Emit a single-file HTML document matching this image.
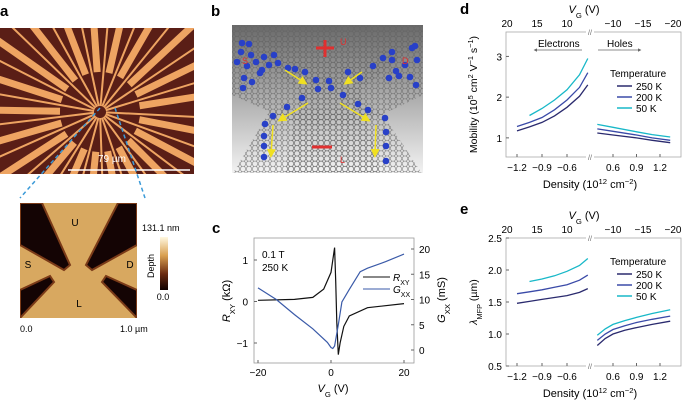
<!DOCTYPE html>
<html><head><meta charset="utf-8"><style>
body{margin:0;background:#fff}
svg{display:block;font-family:"Liberation Sans",sans-serif}
</style></head><body>
<svg id="fig" width="685" height="404" viewBox="0 0 685 404" xmlns="http://www.w3.org/2000/svg">
<defs>
<pattern id="hex" width="6" height="5.2" patternUnits="userSpaceOnUse">
<path d="M0,2.6 L1.5,0 L4.5,0 L6,2.6 L4.5,5.2 L1.5,5.2 Z" fill="none" stroke="#666" stroke-width="0.5"/>
</pattern>
<linearGradient id="bbg" x1="0" y1="0" x2="0" y2="1"><stop offset="0" stop-color="#6a6a6a"/><stop offset="1" stop-color="#f2f2f2"/></linearGradient>
<linearGradient id="cbar" x1="0" y1="0" x2="0" y2="1"><stop offset="0" stop-color="#fff8e0"/><stop offset="0.35" stop-color="#d9a050"/><stop offset="0.7" stop-color="#6a2a10"/><stop offset="1" stop-color="#100000"/></linearGradient>
<marker id="ya" markerWidth="6" markerHeight="6" refX="4" refY="3" orient="auto"><path d="M0,0 L6,3 L0,6Z" fill="#f0e020"/></marker>
<marker id="ga" markerWidth="5" markerHeight="5" refX="3" refY="2.5" orient="auto"><path d="M0,0 L5,2.5 L0,5Z" fill="#666"/></marker>
</defs>

<text x="0" y="16" font-weight="bold" font-size="15">a</text>
<text x="211" y="16" font-weight="bold" font-size="15">b</text>
<text x="212" y="233" font-weight="bold" font-size="15">c</text>
<text x="460" y="14" font-weight="bold" font-size="15">d</text>
<text x="460" y="214" font-weight="bold" font-size="15">e</text>

<g>
<clipPath id="ca"><rect x="0" y="28" width="194" height="146"/></clipPath>
<rect x="0" y="28" width="194" height="146" fill="#5a1e16"/>
<g id="stripes" clip-path="url(#ca)" stroke="#eea462" stroke-width="5"></g>
<line x1="68" y1="170" x2="190" y2="170" stroke="#fff" stroke-width="1.5"/>
<text x="98" y="162" fill="#fff" font-size="10">79 µm</text>
<line x1="100" y1="108" x2="20" y2="198" stroke="#3a9ad8" stroke-width="1.5" stroke-dasharray="4,3"/>
<line x1="115" y1="108" x2="145" y2="198" stroke="#3a9ad8" stroke-width="1.5" stroke-dasharray="4,3"/>
</g>

<g>
<clipPath id="cafm"><rect x="20" y="203" width="117" height="115"/></clipPath>
<g clip-path="url(#cafm)">
<rect x="20" y="203" width="117" height="115" fill="#d8a860"/>
<polygon points="20,203 42,203 70,265 64,270 20,245" fill="#140404" stroke="#7a3a18" stroke-width="2"/>
<polygon points="137,203 118,203 86,265 92,270 137,245" fill="#140404" stroke="#7a3a18" stroke-width="2"/>
<polygon points="20,290 50,276 54,282 20,318" fill="#140404" stroke="#7a3a18" stroke-width="2"/>
<polygon points="137,290 106,276 102,282 137,318" fill="#140404" stroke="#7a3a18" stroke-width="2"/>
</g>
<text x="75" y="226" font-size="10" text-anchor="middle">U</text>
<text x="28" y="268" font-size="10" text-anchor="middle">S</text>
<text x="130" y="268" font-size="10" text-anchor="middle">D</text>
<text x="79" y="307" font-size="10" text-anchor="middle">L</text>
<rect x="160" y="237" width="8" height="53" fill="url(#cbar)"/>
<text x="142" y="231" font-size="9">131.1 nm</text>
<text x="163" y="300" font-size="9" text-anchor="middle">0.0</text>
<text x="154" y="266" font-size="9" text-anchor="middle" transform="rotate(-90 154 266)">Depth</text>
<text x="20" y="332" font-size="9">0.0</text>
<text x="120" y="332" font-size="9">1.0 µm</text>
</g>

<g>
<clipPath id="cb"><rect x="232" y="25" width="191" height="148"/></clipPath>
<g clip-path="url(#cb)">
<rect x="232" y="25" width="191" height="148" fill="url(#bbg)"/>
<polygon points="232,25 232,95 300,125 360,125 423,95 423,25" fill="url(#hex)"/>
<polygon points="232,40 300,90 285,173 380,173 360,90 423,40 423,25 232,25" fill="url(#hex)"/>
<polygon points="232,175 270,110 380,110 423,175" fill="url(#hex)"/>
</g>
<g id="dots" fill="#2840c8"></g>
<g stroke="#f0e020" stroke-width="1.5" marker-end="url(#ya)">
<line x1="285" y1="70" x2="305" y2="83"/><line x1="362" y1="72" x2="346" y2="83"/>
<line x1="308" y1="103" x2="280" y2="120"/><line x1="340" y1="103" x2="368" y2="120"/>
<line x1="273" y1="125" x2="271" y2="155"/><line x1="376" y1="125" x2="375" y2="155"/>
</g>
<path d="M325,40 v17 M316,48 h18" stroke="#e03030" stroke-width="3"/>
<line x1="312" y1="147" x2="332" y2="147" stroke="#e03030" stroke-width="3"/>
<text x="340" y="45" fill="#e03030" font-size="9">U</text>
<text x="242" y="64" fill="#e03030" font-size="9">S</text>
<text x="402" y="64" fill="#e03030" font-size="9">D</text>
<text x="340" y="163" fill="#e03030" font-size="9">L</text>
</g>

<g id="chartc"></g>
<g id="chartd"></g>
<g id="charte"></g>
</svg>
<script>
// ---- chart c data ----
const cVg_R = [-20,-10,-5,-2,0,0.5,1,1.3,1.6,2,2.5,3.5,5,10,20];
const cRxy  = [0.03,0.05,0.1,0.3,0.7,1.0,1.3,0.5,-0.5,-1.28,-1.0,-0.6,-0.35,-0.15,-0.05];
const cVg_G = [-20,-15,-10,-5,-1,0,0.5,1,2,3,5,8,10,15,20];
const cGxx  = [12.3,10,7,4.2,1.5,0.5,0.3,0.8,5,9.5,12,15.5,16.2,17.5,19];
const cXTicks = [-20,0,20];
const cYTicks = [-1,0,1];
const cY2Ticks = [0,5,10,15,20];
// ---- chart d data ----
const dDensE = [-1.2,-1.05,-0.9,-0.75,-0.6,-0.45,-0.35];
const dMu250E = [1.17,1.27,1.38,1.54,1.75,2.02,2.3];
const dMu200E = [1.28,1.38,1.5,1.69,1.93,2.24,2.6];
const dDensE50 = [-1.05,-0.9,-0.75,-0.6,-0.45,-0.35];
const dMu50E = [1.55,1.72,1.93,2.18,2.55,2.95];
const dDensH = [0.4,0.6,0.9,1.1,1.33];
const dMu250H = [1.12,1.07,1.0,0.94,0.88];
const dMu200H = [1.22,1.16,1.07,1.0,0.94];
const dMu50H = [1.33,1.26,1.15,1.08,1.02];
const dYTicks = [1,2,3];
// ---- chart e data ----
const eDensE = [-1.2,-1.05,-0.9,-0.75,-0.6,-0.45,-0.35];
const eL250E = [1.48,1.51,1.54,1.57,1.6,1.65,1.71];
const eL200E = [1.63,1.66,1.69,1.73,1.77,1.84,1.92];
const eDensE50 = [-1.05,-0.9,-0.75,-0.6,-0.45,-0.35];
const eL50E = [1.82,1.86,1.91,1.98,2.07,2.18];
const eDensH = [0.4,0.5,0.6,0.75,0.9,1.1,1.33];
const eL250H = [0.82,0.93,1.0,1.06,1.1,1.15,1.2];
const eL200H = [0.9,1.0,1.07,1.13,1.18,1.23,1.28];
const eL50H = [0.98,1.08,1.15,1.21,1.26,1.32,1.38];
const eYTicks = [0.5,1.0,1.5,2.0,2.5];
// shared
const densTicksE = [-1.2,-0.9,-0.6];
const densTicksH = [0.6,0.9,1.2];
const vgTopE = [20,15,10];
const vgTopH = [-10,-15,-20];
const tempLabels = ['250 K','200 K','50 K'];
const tempColors = ['#2a2a6e','#3a4aa8','#18b8c8'];

const NS='http://www.w3.org/2000/svg';
function mk(parent,tag,attrs,txt){const e=document.createElementNS(NS,tag);for(const k in attrs)e.setAttribute(k,attrs[k]);if(txt!==undefined)e.textContent=txt;parent.appendChild(e);return e;}
function lin(d0,d1,r0,r1){return v=>r0+(v-d0)/(d1-d0)*(r1-r0);}
function pathFrom(xs,ys,sx,sy){return xs.map((x,i)=>(i?'L':'M')+sx(x).toFixed(1)+','+sy(ys[i]).toFixed(1)).join(' ');}
// rich text: parts = [[text, 'n'|'s'|'i'|'is'|'S'], ...]
function rich(parent,attrs,parts){const t=mk(parent,'text',attrs);
 parts.forEach(p=>{const ts=mk(t,'tspan',{},p[0]);const m=p[1]||'n';
  if(m.includes('i'))ts.setAttribute('font-style','italic');
  if(m.includes('s')){ts.setAttribute('baseline-shift','sub');ts.setAttribute('font-size','70%');}
  if(m.includes('S')){ts.setAttribute('baseline-shift','super');ts.setAttribute('font-size','70%');}
 });return t;}

// ===== chart c =====
(function(){
const g=document.getElementById('chartc');
const L=254,R=414,T=238,B=363;
const sx=lin(-20,20,258,404), sy=lin(-1,1,343,260), sy2=lin(0,20,350,249);
const fr=mk(g,'rect',{x:L,y:T,width:R-L,height:B-T,fill:'none',stroke:'#999','stroke-width':0.8});


cXTicks.forEach(v=>{const x=sx(v);mk(g,'line',{x1:x,y1:B,x2:x,y2:B-3,stroke:'#666'});
 const t=mk(g,'text',{x:x,y:B+13,'font-size':10,'text-anchor':'middle'},v<0?'\u2212'+(-v):String(v));
 
 });
cYTicks.forEach(v=>{const y=sy(v);mk(g,'line',{x1:L,y1:y,x2:L+3,y2:y,stroke:'#666'});
 const t=mk(g,'text',{x:L-6,y:y+4,'font-size':10,'text-anchor':'end'},v<0?'\u2212'+(-v):String(v));
 
 });
cY2Ticks.forEach(v=>{const y=sy2(v);mk(g,'line',{x1:R,y1:y,x2:R-3,y2:y,stroke:'#666'});
 const t=mk(g,'text',{x:R+5,y:y+4,'font-size':10},String(v));
 
 });
const p1=mk(g,'path',{d:pathFrom(cVg_R,cRxy,sx,sy),fill:'none',stroke:'#111','stroke-width':1.2});


const p2=mk(g,'path',{d:pathFrom(cVg_G,cGxx,sx,sy2),fill:'none',stroke:'#3a5aa8','stroke-width':1.2});


mk(g,'text',{x:262,y:258,'font-size':10},'0.1 T');
mk(g,'text',{x:262,y:271,'font-size':10},'250 K');
mk(g,'line',{x1:363,y1:277,x2:390,y2:277,stroke:'#111'});
mk(g,'line',{x1:363,y1:289,x2:390,y2:289,stroke:'#3a5aa8'});
rich(g,{x:393,y:281,'font-size':10},[['R','i'],['XY','s']]);
rich(g,{x:393,y:293,'font-size':10},[['G','i'],['XX','s']]);
const xt=rich(g,{x:333,y:392,'font-size':11,'text-anchor':'middle'},[['V','i'],['G','s'],[' (V)']]);


const yt=rich(g,{x:230,y:301,'font-size':11,'text-anchor':'middle',transform:'rotate(-90 230 301)'},[['R','i'],['XY','s'],[' (k\u03a9)']]);


const yt2=rich(g,{x:445,y:300,'font-size':11,'text-anchor':'middle',transform:'rotate(-90 445 300)'},[['G','i'],['XX','s'],[' (mS)']]);


})();

// ===== d & e =====
function drawDE(id,T,B,yd,yTicks,yTitleParts,seriesE,seriesH,legendY,extra){
 const g=document.getElementById(id);
 const L=506,R=681;
 const sxE=lin(-1.2,-0.6,517,567), sxH=lin(0.6,1.2,613,660), sy=lin(yd[0],yd[1],B,T);
 const fr=mk(g,'rect',{x:L,y:T,width:R-L,height:B-T,fill:'none',stroke:'#aaa','stroke-width':0.8});
 
 
 mk(g,'rect',{x:586,y:T-3,width:8,height:6,fill:'#fff'});
 mk(g,'rect',{x:586,y:B-3,width:8,height:6,fill:'#fff'});
 mk(g,'text',{x:590,y:T+3,'font-size':7,'text-anchor':'middle',fill:'#666'},'//');
 mk(g,'text',{x:590,y:B+3,'font-size':7,'text-anchor':'middle',fill:'#666'},'//');
 const fmt=v=>(v<0?'\u2212':'')+Math.abs(v).toFixed(1);
 densTicksE.forEach(v=>{const x=sxE(v);mk(g,'line',{x1:x,y1:B,x2:x,y2:B-3,stroke:'#666'});
  const t=mk(g,'text',{x:x,y:B+14,'font-size':10,'text-anchor':'middle'},fmt(v));
  
  });
 densTicksH.forEach(v=>{const x=sxH(v);mk(g,'line',{x1:x,y1:B,x2:x,y2:B-3,stroke:'#666'});
  const t=mk(g,'text',{x:x,y:B+14,'font-size':10,'text-anchor':'middle'},fmt(v));
  
  });
 const vgE=lin(20,10,507,567), vgH=lin(-10,-20,613,673);
 vgTopE.forEach(v=>{mk(g,'text',{x:vgE(v),y:T-5,'font-size':10,'text-anchor':'middle'},String(v));});
 vgTopH.forEach(v=>{mk(g,'text',{x:vgH(v),y:T-5,'font-size':10,'text-anchor':'middle'},'\u2212'+(-v));});
 yTicks.forEach(v=>{const y=sy(v);mk(g,'line',{x1:L,y1:y,x2:L+3,y2:y,stroke:'#666'});
  const t=mk(g,'text',{x:L-4,y:y+4,'font-size':10,'text-anchor':'end'},yd[2]?v.toFixed(1):String(v));
  
  });
 seriesE.forEach((s,i)=>{const p=mk(g,'path',{d:pathFrom(s[0],s[1],sxE,sy),fill:'none',stroke:tempColors[i],'stroke-width':1.3});
  
  });
 seriesH.forEach((s,i)=>{const p=mk(g,'path',{d:pathFrom(s[0],s[1],sxH,sy),fill:'none',stroke:tempColors[i],'stroke-width':1.3});
  
  });
 mk(g,'text',{x:610,y:legendY,'font-size':10},'Temperature');
 tempLabels.forEach((lab,i)=>{const y=legendY+12+i*11;
  const l=mk(g,'line',{x1:617,y1:y-3,x2:632,y2:y-3,stroke:tempColors[i],'stroke-width':1.5});
  
  
  const t=mk(g,'text',{x:636,y:y+1,'font-size':10},lab);
  
  });
 rich(g,{x:584,y:T-19,'font-size':11,'text-anchor':'middle'},[['V','i'],['G','s'],[' (V)']]);
 const xt=rich(g,{x:590,y:B+31,'font-size':11,'text-anchor':'middle'},[['Density (10'],['12','S'],[' cm'],['\u22122','S'],[')']]);
 
 
 const yt=rich(g,{x:477,y:(T+B)/2,'font-size':10.5,'text-anchor':'middle',transform:`rotate(-90 477 ${(T+B)/2})`},yTitleParts);
 
 
 if(extra)extra(g);
}
drawDE('chartd',32,157,[0.53,3.6],dYTicks,[['Mobility (10'],['5','S'],[' cm'],['2','S'],[' V'],['\u22121','S'],[' s'],['\u22121','S'],[')']],
 [[dDensE,dMu250E],[dDensE,dMu200E],[dDensE50,dMu50E]],
 [[dDensH,dMu250H],[dDensH,dMu200H],[dDensH,dMu50H]],77,
 g=>{mk(g,'text',{x:538,y:47,'font-size':10},'Electrons');mk(g,'text',{x:607,y:47,'font-size':10},'Holes');
  mk(g,'line',{x1:582,y1:50,x2:535,y2:50,stroke:'#666','stroke-width':0.7,'marker-end':'url(#ga)'});
  mk(g,'line',{x1:598,y1:50,x2:640,y2:50,stroke:'#666','stroke-width':0.7,'marker-end':'url(#ga)'});});
drawDE('charte',238,366,[0.5,2.5,1],eYTicks,[['\u03bb','i'],['MFP','s'],[' (\u00b5m)']],
 [[eDensE,eL250E],[eDensE,eL200E],[eDensE50,eL50E]],
 [[eDensH,eL250H],[eDensH,eL200H],[eDensH,eL50H]],265);

// ---- decorative image content ----
(function(){
 const s=document.getElementById('stripes');const cx=100,cy=112;
 for(let a=3;a<360;a+=17){const r=a*Math.PI/180;
  mk(s,'line',{x1:cx+6*Math.cos(r),y1:cy+6*Math.sin(r),x2:cx+230*Math.cos(r),y2:cy+230*Math.sin(r),'stroke-width':2+0.05*0});}
 for(let a=11;a<360;a+=17){const r=a*Math.PI/180;
  mk(s,'line',{x1:cx+40*Math.cos(r),y1:cy+40*Math.sin(r),x2:cx+230*Math.cos(r),y2:cy+230*Math.sin(r),'stroke-width':7});}
 const d=document.getElementById('dots');
 const pts=[[242,43],[249,44],[241,52],[251,55],[237,62],[247,66],[256,62],[264,57],[274,55],[269,65],[278,63],[260,73],[244,78],[243,88],[252,82],[262,70],[288,68],[295,69],[305,72],[316,80],[329,81],[318,89],[331,88],[302,98],[287,107],[273,116],[265,124],[264,136],[264,146],[264,157],[348,72],[360,78],[373,66],[383,58],[392,60],[396,71],[405,65],[412,48],[417,60],[392,52],[399,76],[410,77],[416,85],[389,78],[343,95],[358,104],[368,110],[385,118],[386,132],[386,146],[386,161],[415,46]];
 pts.forEach(p=>mk(d,'circle',{cx:p[0],cy:p[1],r:3.3}));
})();
</script>
</body></html>
